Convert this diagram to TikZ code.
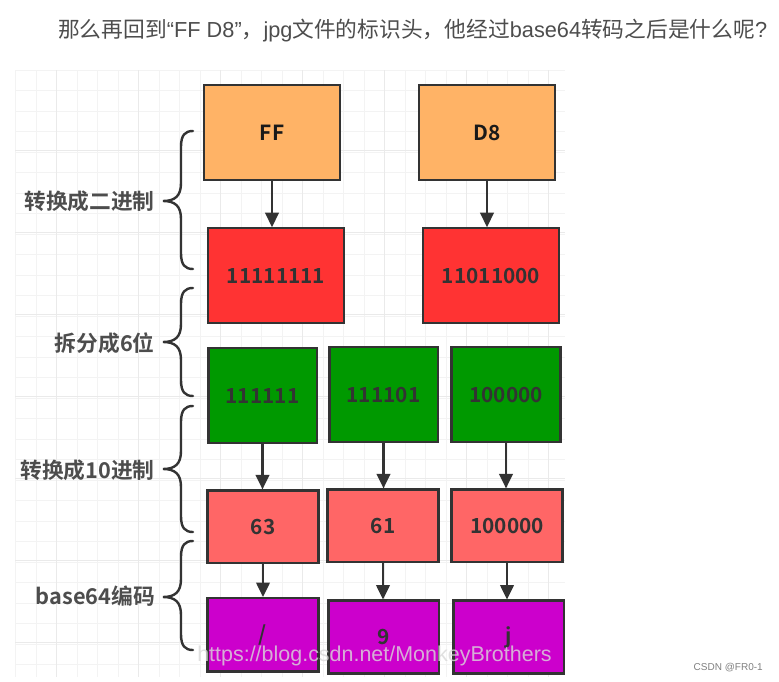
\documentclass[tikz,border=0pt]{standalone}
\usepackage{fontspec}
\setmainfont{Liberation Sans}
\newfontfamily\cjk{Noto Sans CJK SC}
\newfontfamily\cjkbold{Noto Sans CJK SC Bold}
\usetikzlibrary{arrows.meta}
\definecolor{inkgray}{HTML}{333333}
\definecolor{textgray}{HTML}{4D4D4D}
\definecolor{minorline}{HTML}{F3F3F3}
\definecolor{majorline}{HTML}{EAEAEA}
\definecolor{hexfill}{HTML}{FFB366}
\definecolor{binfill}{HTML}{FF3333}
\definecolor{sixfill}{HTML}{009900}
\definecolor{decfill}{HTML}{FF6666}
\definecolor{codefill}{HTML}{CC00CC}
\tikzset{
box/.style={draw=inkgray,line width=2pt,inner sep=0pt,text=inkgray,font=\cjkbold\fontsize{15.6}{15.6}\selectfont},
hexbox/.style={box,fill=hexfill,minimum width=102pt,minimum height=71.25pt,text=black!90},
binbox/.style={box,fill=binfill,minimum width=102pt,minimum height=71.25pt},
sixbox/.style={box,fill=sixfill,minimum width=81.5pt,minimum height=71.25pt},
decbox/.style={box,fill=decfill,minimum width=83pt,minimum height=54.5pt},
codebox/.style={box,fill=codefill,minimum width=83pt,minimum height=55pt},
steplabel/.style={anchor=east,inner sep=0pt,text=textgray,font=\cjkbold\fontsize{16.3}{16.3}\selectfont},
flow/.style={draw=inkgray,line width=2.2pt,-{Triangle[length=11pt,width=10pt]},shorten >=-0.5pt},
curly/.style={draw=inkgray,line width=1.8pt,line cap=round}
}
\newcommand{\curlybrace}[3]{
\draw[curly] (193,#1) .. controls (185,#1) and (181,#1+4) .. (181,#1+16)
-- (181,#2-18) .. controls (181,#2-5) and (175,#2) .. (163,#2)
.. controls (175,#2) and (181,#2+5) .. (181,#2+18)
-- (181,#3-16) .. controls (181,#3-4) and (185,#3) .. (193,#3);
}
\begin{document}
\begin{tikzpicture}[x=0.75pt,y=-0.75pt]
\useasboundingbox (0,0) rectangle (779,682);
\fill[white] (0,0) rectangle (779,682);
\foreach \i in {0,...,26} \draw[minorline,line width=0.6pt] (15.7+20.5*\i,70) -- (15.7+20.5*\i,677);
\foreach \j in {0,...,29} \draw[minorline,line width=0.6pt] (15,70+20.5*\j) -- (565,70+20.5*\j);
\foreach \i in {0,...,6} \draw[majorline,line width=0.6pt] (56.7+82*\i,70) -- (56.7+82*\i,677);
\foreach \j in {0,...,6} \draw[majorline,line width=0.6pt] (15,150.7+82*\j) -- (565,150.7+82*\j);

\node[anchor=west,inner sep=0pt,text=textgray,font=\fontsize{16.3}{16.3}\selectfont] (title) at (58,31)
{\cjk 那么再回到\rmfamily “FF D8”\cjk ，\rmfamily jpg\cjk 文件的标识头，他经过\rmfamily base64\cjk 转码之后是什么呢\rmfamily ?};

\node[hexbox] (ff) at (272,132.5) {FF};
\node[hexbox] (d8) at (487,132.5) {D8};
\node[binbox] (binff) at (276,275.5) {11111111};
\node[binbox] (bind8) at (491,275.5) {11011000};
\node[sixbox] (sixa) at (262.5,395.5) {111111};
\node[sixbox] (sixb) at (383.5,394.5) {111101};
\node[sixbox] (sixc) at (506,394.5) {100000};
\node[decbox] (deca) at (263,526.5) {63};
\node[decbox] (decb) at (383,525.5) {61};
\node[decbox] (decc) at (507,525.5) {100000};
\node[codebox] (codea) at (263,634.5) {\raisebox{-2pt}{/}};
\node[codebox] (codeb) at (383.5,637) {9};
\node[codebox] (codec) at (508.5,637) {j};

\draw[flow] (ff.south) -- (ff.south |- binff.north);
\draw[flow] (d8.south) -- (d8.south |- bind8.north);
\draw[flow] (sixa.south) -- (sixa.south |- deca.north);
\draw[flow] (sixb.south) -- (sixb.south |- decb.north);
\draw[flow] (sixc.south) -- (sixc.south |- decc.north);
\draw[flow] (deca.south) -- (deca.south |- codea.north);
\draw[flow] (decb.south) -- (decb.south |- codeb.north);
\draw[flow] (decc.south) -- (decc.south |- codec.north);

\curlybrace{131}{201}{269}
\curlybrace{288}{342}{396}
\curlybrace{406}{469}{532}
\curlybrace{541}{597}{650}

\node[steplabel] (tobin) at (155,201) {转换成二进制};
\node[steplabel] (split) at (155,343) {拆分成6位};
\node[steplabel] (todec) at (155,470) {转换成10进制};
\node[steplabel] (encode) at (155,596) {base64编码};

\node[anchor=west,inner sep=0pt,text=black!15,opacity=0.8,font=\fontsize{16.1}{16.1}\selectfont] (mark) at (197,656) {https://blog.csdn.net/MonkeyBrothers};
\node[anchor=east,inner sep=0pt,text=black!50,font=\fontsize{7.5}{7.5}\selectfont] (csdn) at (763,668) {CSDN @FR0-1};
\end{tikzpicture}
\end{document}
